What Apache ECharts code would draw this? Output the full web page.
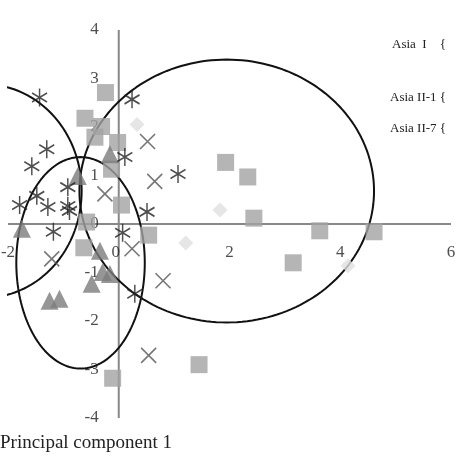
<!DOCTYPE html>
<html><head><meta charset="utf-8">
<script src="https://cdn.jsdelivr.net/npm/echarts@6/dist/echarts.min.js"></script>
<style>html,body{margin:0;padding:0;background:#fff}#c{width:474px;height:474px}</style>
</head><body><div id="c"></div>
<script>
const squares=[[-0.24,2.71],[-0.61,2.18],[-0.31,2.01],[-0.43,1.79],[-0.02,1.68],[-0.13,1.13],[0.05,0.39],[-0.58,0.04],[0.54,-0.23],[-0.63,-0.49],[1.93,1.27],[2.33,0.97],[2.44,0.12],[3.63,-0.14],[4.61,-0.16],[3.15,-0.80],[1.45,-2.90],[-0.11,-3.18]];
const triangles=[[-0.16,1.44],[-0.74,0.99],[-1.75,-0.10],[-0.34,-0.55],[-0.29,-0.99],[-0.16,-1.03],[-0.49,-1.23],[-1.25,-1.58],[-1.07,-1.54]];
const diamonds=[[0.33,2.05],[1.83,0.29],[1.21,-0.39],[4.14,-0.86]];
const crosses=[[0.52,1.70],[0.65,0.88],[0.24,-0.51],[0.80,-1.17],[0.54,-2.71],[-0.25,0.62],[-1.21,-0.72]];
const stars=[[-1.43,2.61],[0.24,2.57],[-1.30,1.54],[-1.57,1.19],[0.11,1.38],[1.07,1.03],[-1.48,0.58],[-0.92,0.76],[-1.79,0.39],[-1.28,0.35],[-0.92,0.37],[-0.89,0.27],[0.51,0.25],[-1.18,-0.16],[0.07,-0.18],[0.29,-1.44]];
// ellipses: [cx, cy, rx, ry]
const ellipses=[[1.95,0.68,2.66,2.71],[-2.42,0.68,1.75,2.2],[-0.69,-0.80,1.16,2.18]];
const xTicks=[-2,2,4,6];
const yTicks=[-4,-3,-2,-1,0,1,2,3,4];
const legendNames=['Asia  I','Asia II-1','Asia II-7'];

function ell(e){const p=[];for(let i=0;i<=180;i++){const t=i/180*2*Math.PI;p.push([e[0]+e[2]*Math.cos(t),e[1]+e[3]*Math.sin(t)]);}return p;}
const starPath='path://M0,-10L0,10M-9,-5L9,5M-9,5L9,-5';
const crossPath='path://M-10,-10L10,10M-10,10L10,-10';
const serif='Liberation Serif';
const axisStyle={color:'#888',width:2};
const series=[
 {type:'line',data:[[-2,0],[6,0]],showSymbol:false,lineStyle:axisStyle,silent:true,z:0},
 {type:'line',data:[[0,-4],[0,4]],showSymbol:false,lineStyle:axisStyle,silent:true,z:0},
 {type:'scatter',data:xTicks.map(v=>[v,0]).concat([[0,0]]),symbol:'path://M0,0L0,10',symbolSize:[2,7],symbolOffset:[0,4],itemStyle:{color:'none',borderColor:'#888',borderWidth:2},silent:true,z:0},
 {type:'scatter',data:yTicks.map(v=>[0,v]),symbol:'path://M0,0L10,0',symbolSize:[7,2],symbolOffset:[-4,0],itemStyle:{color:'none',borderColor:'#888',borderWidth:2},silent:true,z:0},
 {type:'scatter',data:xTicks.map(v=>[v,0]),symbolSize:0,silent:true,label:{show:true,position:'bottom',distance:20,formatter:p=>String(p.value[0]),fontFamily:serif,fontSize:17,color:'#222'}},
 {type:'scatter',data:yTicks.map(v=>[0,v]),symbolSize:0,silent:true,label:{show:true,position:'left',distance:20,formatter:p=>String(p.value[1]),fontFamily:serif,fontSize:17,color:'#222'}},
 {type:'scatter',data:[[0,0]],symbolSize:0,silent:true,label:{show:true,position:'bottom',distance:20,formatter:'0',fontFamily:serif,fontSize:17,color:'#222',offset:[-3,0]}},
 ...ellipses.map(e=>({type:'line',data:ell(e),showSymbol:false,smooth:false,lineStyle:{color:'#111',width:2},clip:true,silent:true,z:1})),
 {type:'scatter',data:squares,symbol:'rect',symbolSize:17,itemStyle:{color:'#a2a2a2'},z:3},
 {type:'scatter',data:triangles,symbol:'triangle',symbolSize:18,itemStyle:{color:'#7c7c7c'},z:3},
 {type:'scatter',data:diamonds,symbol:'diamond',symbolSize:15,itemStyle:{color:'#e0e0e0'},z:3},
 {type:'scatter',data:crosses,symbol:crossPath,symbolSize:15,itemStyle:{color:'none',borderColor:'#555',borderWidth:1.6},z:4},
 {type:'scatter',data:stars,symbol:starPath,symbolSize:[15,18],itemStyle:{color:'none',borderColor:'#222',borderWidth:1.6},z:4}
];
const ch=echarts.init(document.getElementById('c'));
ch.setOption({
 animation:false,
 grid:{left:8,top:30,width:443,height:388},
 xAxis:{type:'value',min:-2,max:6,interval:2,show:false},
 yAxis:{type:'value',min:-4,max:4,interval:1,show:false},
 graphic:[
  {type:'text',left:0,top:434,style:{text:'Principal component 1',font:'19px "Liberation Serif"',fill:'#222'}},
  {type:'text',left:392,top:38,style:{text:legendNames[0]+'    {',font:'13px "Liberation Serif"',fill:'#222'}},
  {type:'text',left:390,top:91,style:{text:legendNames[1]+' {',font:'13px "Liberation Serif"',fill:'#222'}},
  {type:'text',left:390,top:122,style:{text:legendNames[2]+' {',font:'13px "Liberation Serif"',fill:'#222'}}
 ],
 series:series
});
</script></body></html>
